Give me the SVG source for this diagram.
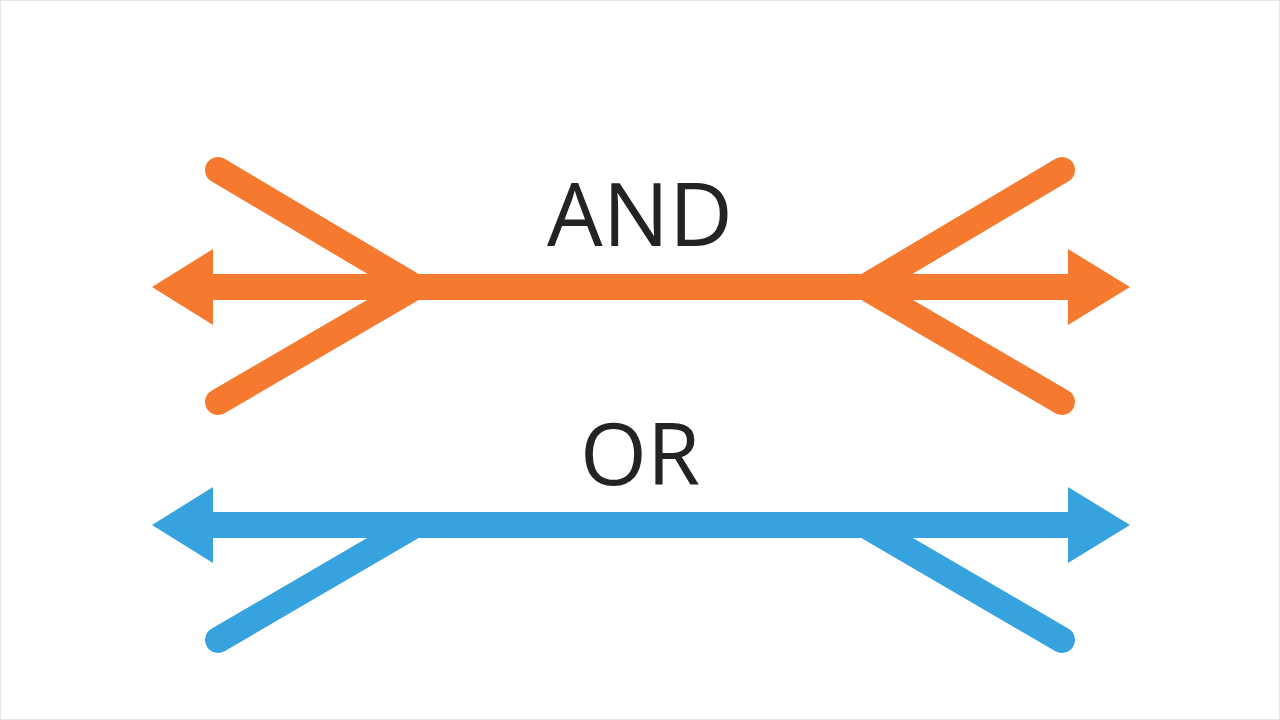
<svg xmlns="http://www.w3.org/2000/svg" width="1280" height="720" viewBox="0 0 1280 720">
<style>
.o{stroke:#F57A30;fill:none;stroke-width:26;stroke-linecap:round}
.b{stroke:#36A3DF;fill:none;stroke-width:26;stroke-linecap:round}
.t{font-family:"Open Sans","Liberation Sans",sans-serif;fill:#232323;text-anchor:middle}
</style>
<rect x="0" y="0" width="1280" height="720" fill="#fff"/>
<rect x="0.5" y="0.5" width="1279" height="719" fill="none" stroke="#e6e6e6"/>
<g id="and-connector">
<line class="o" x1="200" y1="287" x2="1080" y2="287" style="stroke-linecap:butt"/>
<line class="o" x1="218" y1="170" x2="410" y2="284"/>
<line class="o" x1="218" y1="402" x2="410" y2="290"/>
<line class="o" x1="1062" y1="170" x2="870" y2="284"/>
<line class="o" x1="1062" y1="402" x2="870" y2="290"/>
<polygon points="152,287 213,249 213,325" fill="#F57A30"/>
<polygon points="1130,287 1068,249 1068,325" fill="#F57A30"/>
</g>
<g id="or-connector">
<line class="b" x1="200" y1="525" x2="1080" y2="525" style="stroke-linecap:butt"/>
<line class="b" x1="218" y1="640" x2="410" y2="528"/>
<line class="b" x1="1062" y1="640" x2="870" y2="528"/>
<polygon points="152,525 213,487 213,563" fill="#36A3DF"/>
<polygon points="1130,525 1068,487 1068,563" fill="#36A3DF"/>
</g>
<g id="labels">
<text class="t" x="640" y="246" font-size="88">AND</text>
<text class="t" x="640" y="485" font-size="86">OR</text>
</g>
</svg>
